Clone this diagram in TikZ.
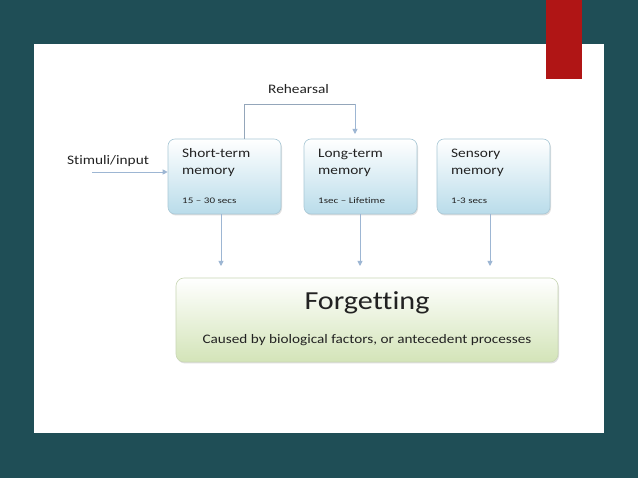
\documentclass[tikz,border=0pt]{standalone}
\usepackage{fontspec}
\setmainfont[Ligatures=NoCommon]{Carlito}
\usetikzlibrary{arrows.meta,shadows}
\definecolor{bgteal}{HTML}{1F4E56}
\definecolor{redbar}{HTML}{B01515}
\definecolor{boxedge}{HTML}{A9C8D6}
\definecolor{boxblue}{HTML}{B9DCEA}
\definecolor{boxgreen}{HTML}{D3E4B8}
\definecolor{greenedge}{HTML}{C9D7B5}
\definecolor{lineblue}{HTML}{9DB6D3}
\definecolor{txt}{HTML}{222222}
\newcommand{\wid}[2][1.18]{\scalebox{#1}[1]{#2}}
\begin{document}
\begin{tikzpicture}[x=1pt,y=-1pt,
  memo/.style={draw=boxedge, line width=0.6pt, rounded corners=7pt, top color=white, bottom color=boxblue,
     minimum width=113pt, minimum height=75pt, drop shadow={shadow xshift=1pt,shadow yshift=-1.5pt,opacity=0.25}},
  forg/.style={draw=greenedge, line width=0.6pt, rounded corners=8pt, top color=white, bottom color=boxgreen,
     minimum width=382pt, minimum height=84pt, drop shadow={shadow xshift=1pt,shadow yshift=-1.5pt,opacity=0.25}},
  conn/.style={draw=lineblue, line width=0.9pt, -{Triangle[width=5pt,length=5pt]}},
  big/.style={font=\fontsize{13pt}{17pt}\selectfont, text=txt, anchor=base west, inner sep=0pt},
  small/.style={font=\fontsize{8.5pt}{10pt}\selectfont, text=txt, anchor=base west, inner sep=0pt},
  lab/.style={font=\fontsize{13pt}{15pt}\selectfont, text=txt, inner sep=0pt}]
\fill[bgteal] (0,0) rectangle (638,478);
\fill[white] (34,44) rectangle (604,433);
\fill[redbar] (546,0) rectangle (582,79);

\node[memo] (stm) at (224.5,176.5) {};
\node[memo] (ltm) at (360.5,176.5) {};
\node[memo] (sm) at (493.5,176.5) {};
\node[forg] (fg) at (367,320) {};

\node[big] (t1) at (182,158) {\wid{\begin{tabular}[t]{@{}l@{}}Short-term\\memory\end{tabular}}};
\node[small] (s1) at (182,204) {\wid[1.3]{15 -- 30 secs}};
\node[big] (t2) at (318,158) {\wid{\begin{tabular}[t]{@{}l@{}}Long-term\\memory\end{tabular}}};
\node[small] (s2) at (318,204) {\wid[1.3]{1sec -- Lifetime}};
\node[big] (t3) at (451,158) {\wid{\begin{tabular}[t]{@{}l@{}}Sensory\\memory\end{tabular}}};
\node[small] (s3) at (451,204) {\wid[1.3]{1-3 secs}};

\node[font=\fontsize{26pt}{28pt}\selectfont, text=txt, anchor=base, inner sep=0pt] (ft) at (367,310) {\wid[1.16]{Forgetting}};
\node[lab, anchor=base] (fs) at (367,344) {\wid[1.17]{Caused by biological factors, or antecedent processes}};

\node[lab, anchor=base west] (stim) at (67,165) {\wid{Stimuli/input}};
\node[lab, anchor=base west] (reh) at (268,94) {\wid{Rehearsal}};

\coordinate (sin) at (92,172);
\coordinate (c1) at (244,104);
\coordinate (c2) at (355,104);
\coordinate (c3) at (355,134);
\draw[conn] (sin) -- (stm.west |- sin);
\draw[draw=lineblue!70!gray, line width=0.6pt] (stm.north -| c1) -- (c1) -- (c2);
\draw[conn] (c2) -- (c3);
\draw[conn] (stm.south -| 221,0) -- (221,266);
\draw[conn] (ltm.south -| 360,0) -- (360,266);
\draw[conn] (sm.south -| 490,0) -- (490,266);
\end{tikzpicture}
\end{document}
